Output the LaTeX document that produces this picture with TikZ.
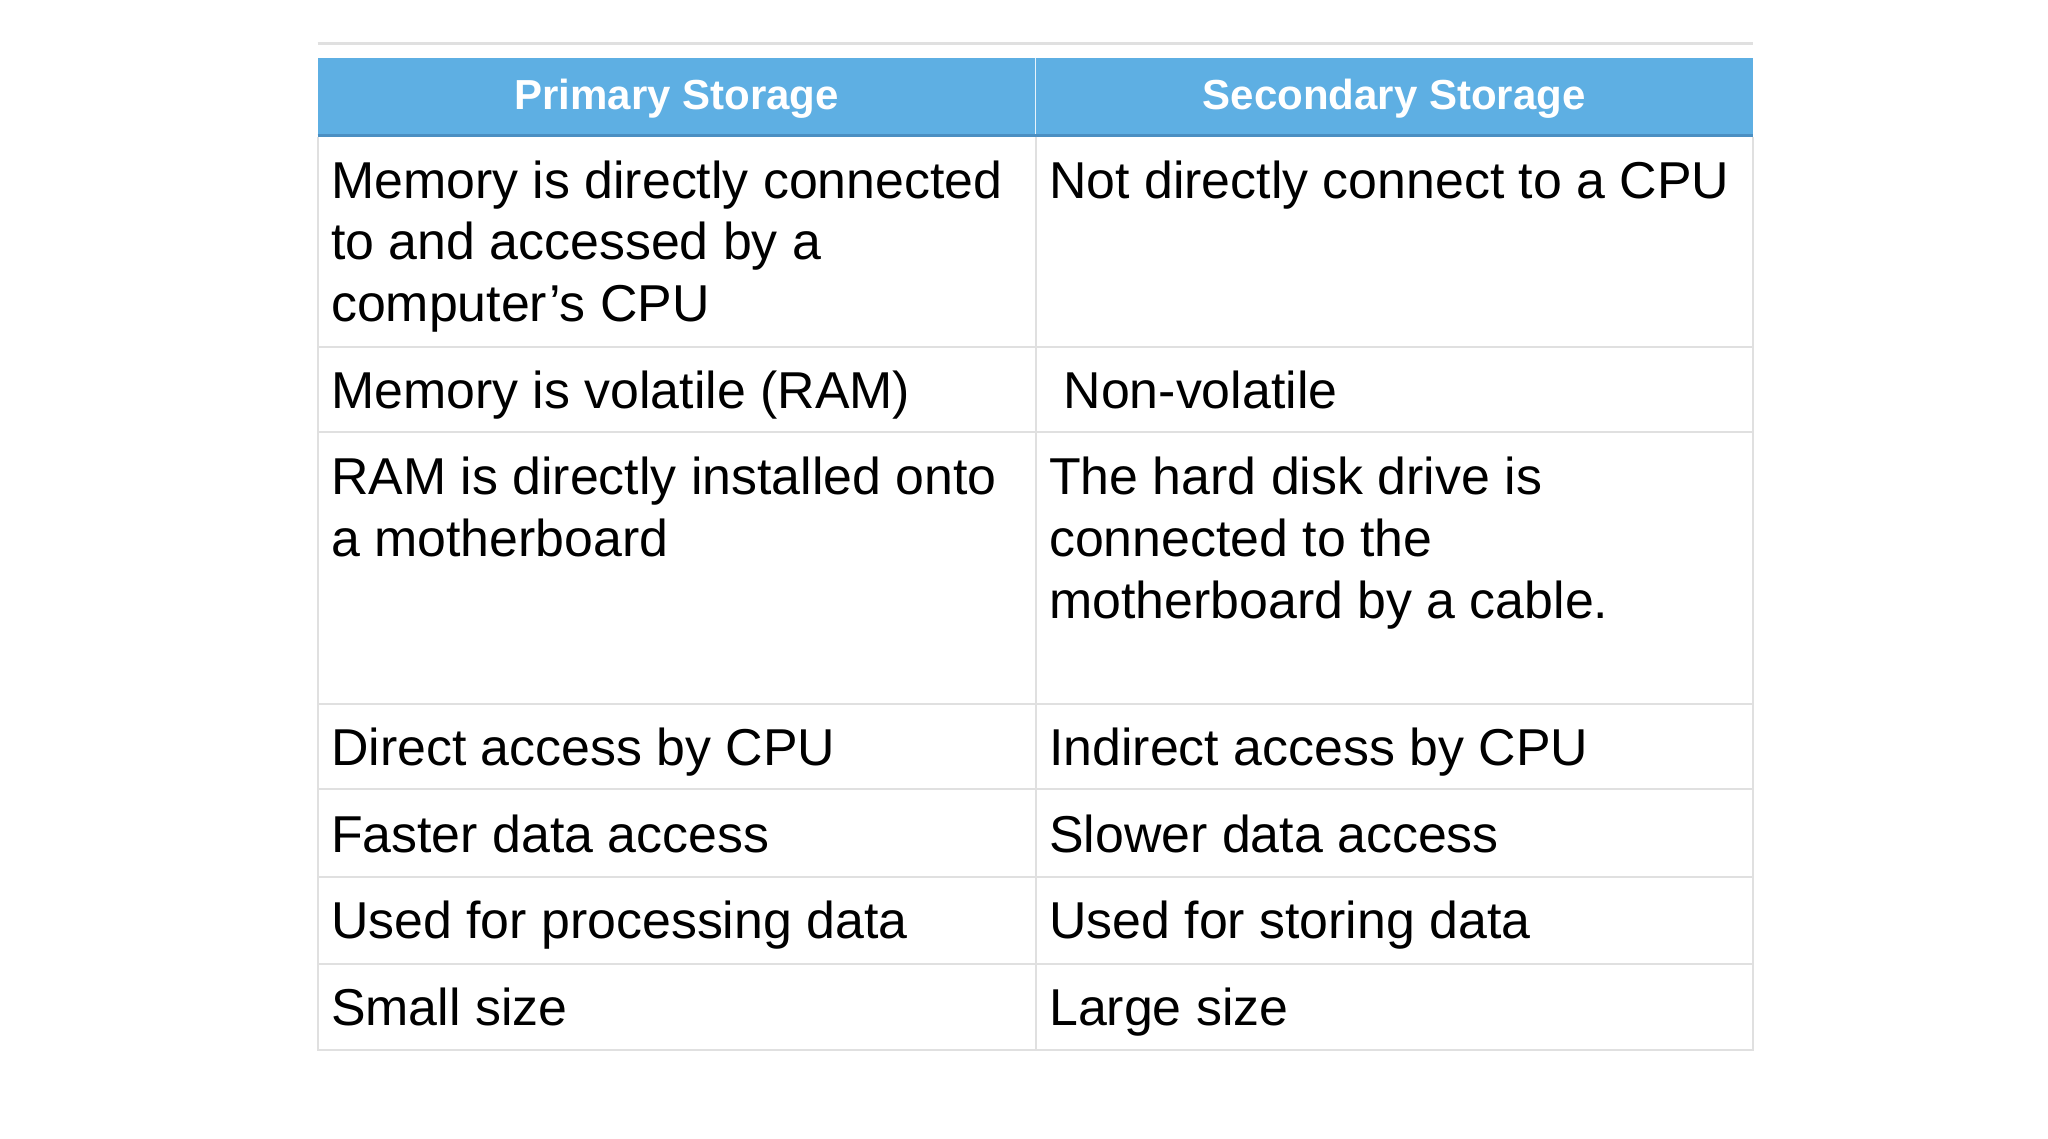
\documentclass[tikz,border=0pt]{standalone}
\usepackage{fontspec}
\setmainfont{Liberation Sans}
\definecolor{hdr}{HTML}{5EAFE3}
\definecolor{hdrline}{HTML}{4B8FC2}
\definecolor{grid}{HTML}{E0E0E0}
\begin{document}
\begin{tikzpicture}[x=1pt,y=-1pt,
  cell/.style={anchor=base west,inner sep=0pt,font=\fontsize{39.5}{47}\selectfont},
  head/.style={inner sep=0pt,text=white,font=\fontsize{32}{36}\selectfont\bfseries}]
\useasboundingbox (0,0) rectangle (1560,867);
\fill[white] (0,0) rectangle (1560,867);
\draw[grid,line width=2pt] (242,33) -- (1335,33);
\fill[hdr] (242,44) rectangle (1335,104);
\draw[hdrline,line width=2.5pt] (242,103) -- (1335,103);
\draw[white!85!hdr,line width=1pt] (789,44) -- (789,102);
\node[head] (h1) at (515.5,75) {Primary Storage};
\node[head] (h2) at (1062,75) {Secondary Storage};
\foreach \y in {264,329,536,601,668,734} \draw[grid,line width=1.5pt] (242,\y) -- (1335,\y);
\draw[grid,line width=1.5pt] (242,104) -- (242,800) -- (1335,800) -- (1335,104);
\draw[grid,line width=1.5pt] (789,104) -- (789,800);
\node[cell] (a1) at (252,151) {Memory is directly connected};
\node[cell] (a2) at (252,198) {to and accessed by a};
\node[cell] (a3) at (252,245) {computer’s CPU};
\node[cell] (b1) at (799,151) {Not directly connect to a CPU};
\node[cell] (a4) at (252,311) {Memory is volatile (RAM)};
\node[cell] (b4) at (810,311) {Non-volatile};
\node[cell] (a5) at (252,377) {RAM is directly installed onto};
\node[cell] (a6) at (252,424) {a motherboard};
\node[cell] (b5) at (799,377) {The hard disk drive is};
\node[cell] (b6) at (799,424) {connected to the};
\node[cell] (b7) at (799,471) {motherboard by a cable.};
\node[cell] (a8) at (252,583) {Direct access by CPU};
\node[cell] (b8) at (799,583) {Indirect access by CPU};
\node[cell] (a9) at (252,649) {Faster data access};
\node[cell] (b9) at (799,649) {Slower data access};
\node[cell] (a10) at (252,715) {Used for processing data};
\node[cell] (b10) at (799,715) {Used for storing data};
\node[cell] (a11) at (252,781) {Small size};
\node[cell] (b11) at (799,781) {Large size};
\end{tikzpicture}
\end{document}
